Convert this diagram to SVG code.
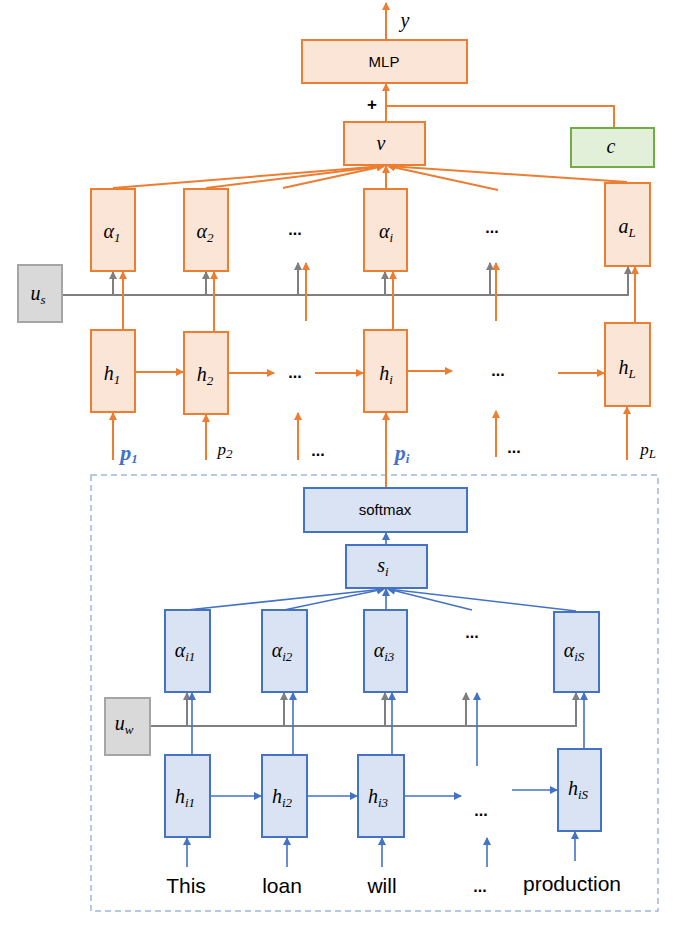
<svg xmlns="http://www.w3.org/2000/svg" width="693" height="929" viewBox="0 0 693 929">
<style>
.o{fill:#FBE5D6;stroke:#ED7D31;stroke-width:2}
.b{fill:#DAE3F3;stroke:#4472C4;stroke-width:2}
.g{fill:#E2F0D9;stroke:#70AD47;stroke-width:2}
.u{fill:#D9D9D9;stroke:#A5A5A5;stroke-width:2}
.m{font-family:"Liberation Serif",serif;font-style:italic;font-size:20px;fill:#000;text-anchor:middle}
.s{font-size:13px}
.t{font-family:"Liberation Sans",sans-serif;font-size:15px;text-anchor:middle;fill:#000}
.w{font-family:"Liberation Sans",sans-serif;font-size:21px;text-anchor:middle;fill:#000}
.lo{stroke:#ED7D31;stroke-width:2;fill:none}
.lb{stroke:#4472C4;stroke-width:1.6;fill:none}
.lg{stroke:#7F7F7F;stroke-width:2;fill:none}
.d{font-family:"Liberation Sans",sans-serif;font-size:16px;text-anchor:middle;font-weight:bold}
</style>
<defs>
<marker id="ao" markerWidth="8" markerHeight="8" refX="7" refY="4" orient="auto" markerUnits="userSpaceOnUse"><path d="M0,0L8,4L0,8z" fill="#ED7D31"/></marker>
<marker id="ab" markerWidth="8" markerHeight="8" refX="7" refY="4" orient="auto" markerUnits="userSpaceOnUse"><path d="M0,0L8,4L0,8z" fill="#4472C4"/></marker>
<marker id="ag" markerWidth="8" markerHeight="8" refX="7" refY="4" orient="auto" markerUnits="userSpaceOnUse"><path d="M0,0L8,4L0,8z" fill="#7F7F7F"/></marker>
</defs>
<rect x="91" y="475" width="567" height="436" fill="none" stroke="#9DB8DC" stroke-width="1.5" stroke-dasharray="6,4"/>
<g id="connectors">
<line class="lo" x1="386" y1="40" x2="386" y2="3" marker-end="url(#ao)"/>
<line class="lo" x1="386" y1="122" x2="386" y2="84" marker-end="url(#ao)"/>
<polyline class="lo" points="386,106 614,106 614,128"/>
<g class="lo">
<line x1="113" y1="188" x2="384" y2="166" marker-end="url(#ao)"/>
<line x1="206" y1="188" x2="384" y2="166" marker-end="url(#ao)"/>
<line x1="283" y1="188" x2="384" y2="166" marker-end="url(#ao)"/>
<line x1="386" y1="189" x2="386" y2="166" marker-end="url(#ao)"/>
<line x1="498" y1="190" x2="388" y2="166" marker-end="url(#ao)"/>
<line x1="627" y1="182" x2="388" y2="166" marker-end="url(#ao)"/>
</g>
<polyline class="lg" points="62,295 628,295 628,267" marker-end="url(#ag)"/>
<g class="lg">
<line x1="113" y1="295" x2="113" y2="272" marker-end="url(#ag)"/>
<line x1="206" y1="295" x2="206" y2="272" marker-end="url(#ag)"/>
<line x1="298" y1="295" x2="298" y2="263" marker-end="url(#ag)"/>
<line x1="385" y1="295" x2="385" y2="272" marker-end="url(#ag)"/>
<line x1="490" y1="295" x2="490" y2="263" marker-end="url(#ag)"/>
</g>
<g class="lo">
<line x1="123" y1="330" x2="123" y2="272" marker-end="url(#ao)"/>
<line x1="214" y1="332" x2="214" y2="272" marker-end="url(#ao)"/>
<line x1="306" y1="321" x2="306" y2="263" marker-end="url(#ao)"/>
<line x1="393" y1="330" x2="393" y2="272" marker-end="url(#ao)"/>
<line x1="496" y1="321" x2="496" y2="263" marker-end="url(#ao)"/>
<line x1="635" y1="323" x2="635" y2="267" marker-end="url(#ao)"/>
<line x1="135" y1="372" x2="183" y2="372" marker-end="url(#ao)"/>
<line x1="228" y1="373" x2="274" y2="373" marker-end="url(#ao)"/>
<line x1="315" y1="373" x2="363" y2="373" marker-end="url(#ao)"/>
<line x1="407" y1="371" x2="452" y2="371" marker-end="url(#ao)"/>
<line x1="558" y1="373" x2="604" y2="373" marker-end="url(#ao)"/>
<line x1="113" y1="460" x2="113" y2="413" marker-end="url(#ao)"/>
<line x1="206" y1="460" x2="206" y2="415" marker-end="url(#ao)"/>
<line x1="298" y1="460" x2="298" y2="413" marker-end="url(#ao)"/>
<line x1="386" y1="488" x2="386" y2="413" marker-end="url(#ao)"/>
<line x1="496" y1="457" x2="496" y2="411" marker-end="url(#ao)"/>
<line x1="627" y1="460" x2="627" y2="407" marker-end="url(#ao)"/>
</g>
<g class="lb">
<line x1="386" y1="545" x2="386" y2="533" marker-end="url(#ab)"/>
<line x1="187" y1="610" x2="384" y2="589" marker-end="url(#ab)"/>
<line x1="284" y1="610" x2="384" y2="589" marker-end="url(#ab)"/>
<line x1="386" y1="610" x2="386" y2="589" marker-end="url(#ab)"/>
<line x1="472" y1="610" x2="388" y2="589" marker-end="url(#ab)"/>
<line x1="576" y1="611" x2="388" y2="589" marker-end="url(#ab)"/>
</g>
<polyline class="lg" points="150,726 577,726"/>
<g class="lg" stroke-width="1.6">
<line x1="187" y1="726" x2="187" y2="693" marker-end="url(#ag)"/>
<line x1="284" y1="726" x2="284" y2="693" marker-end="url(#ag)"/>
<line x1="385" y1="726" x2="385" y2="693" marker-end="url(#ag)"/>
<line x1="466" y1="726" x2="466" y2="693" marker-end="url(#ag)"/>
<line x1="576" y1="726" x2="576" y2="693" marker-end="url(#ag)"/>
</g>
<g class="lb">
<line x1="192" y1="755" x2="192" y2="693" marker-end="url(#ab)"/>
<line x1="293" y1="755" x2="293" y2="693" marker-end="url(#ab)"/>
<line x1="392" y1="755" x2="392" y2="693" marker-end="url(#ab)"/>
<line x1="477" y1="766" x2="477" y2="693" marker-end="url(#ab)"/>
<line x1="584" y1="749" x2="584" y2="693" marker-end="url(#ab)"/>
<line x1="210" y1="796" x2="261" y2="796" marker-end="url(#ab)"/>
<line x1="307" y1="796" x2="357" y2="796" marker-end="url(#ab)"/>
<line x1="404" y1="796" x2="461" y2="796" marker-end="url(#ab)"/>
<line x1="512" y1="790" x2="557" y2="790" marker-end="url(#ab)"/>
<line x1="187" y1="867" x2="187" y2="838" marker-end="url(#ab)"/>
<line x1="287" y1="867" x2="287" y2="838" marker-end="url(#ab)"/>
<line x1="382" y1="867" x2="382" y2="838" marker-end="url(#ab)"/>
<line x1="487" y1="867" x2="487" y2="838" marker-end="url(#ab)"/>
<line x1="575" y1="861" x2="575" y2="832" marker-end="url(#ab)"/>
</g>
</g>
<text class="m" x="405" y="27">y</text>
<g id="mlp"><rect class="o" x="302" y="40" width="165" height="43"/><text class="t" x="384" y="67">MLP</text></g>
<text x="372" y="110" font-family="Liberation Sans,sans-serif" font-size="17" font-weight="bold" text-anchor="middle">+</text>
<g id="v"><rect class="o" x="344" y="122" width="81" height="43"/><text class="m" x="381" y="150">v</text></g>
<g id="c"><rect class="g" x="571" y="128" width="83" height="39"/><text class="m" x="611" y="153">c</text></g>
<g id="a1"><rect class="o" x="91" y="189" width="44" height="82"/><text class="m" x="112" y="238">α<tspan class="s" dy="4">1</tspan></text></g>
<g id="a2"><rect class="o" x="184" y="189" width="44" height="82"/><text class="m" x="205" y="238">α<tspan class="s" dy="4">2</tspan></text></g>
<text class="d" x="295" y="235">...</text>
<g id="ai"><rect class="o" x="364" y="189" width="43" height="82"/><text class="m" x="386" y="238">α<tspan class="s" dy="4">i</tspan></text></g>
<text class="d" x="492" y="233">...</text>
<g id="aL"><rect class="o" x="605" y="183" width="45" height="83"/><text class="m" x="627" y="233">a<tspan class="s" dy="4">L</tspan></text></g>
<g id="us"><rect class="u" x="18" y="265" width="44" height="57"/><text class="m" x="38" y="300">u<tspan class="s" dy="4">s</tspan></text></g>
<g id="h1"><rect class="o" x="91" y="330" width="44" height="82"/><text class="m" x="112" y="380">h<tspan class="s" dy="4">1</tspan></text></g>
<g id="h2"><rect class="o" x="184" y="332" width="44" height="82"/><text class="m" x="205" y="381">h<tspan class="s" dy="4">2</tspan></text></g>
<text class="d" x="295" y="378">...</text>
<g id="hi"><rect class="o" x="364" y="330" width="43" height="82"/><text class="m" x="386" y="380">h<tspan class="s" dy="4">i</tspan></text></g>
<text class="d" x="498" y="376">...</text>
<g id="hL"><rect class="o" x="605" y="323" width="45" height="83"/><text class="m" x="627" y="374">h<tspan class="s" dy="4">L</tspan></text></g>
<text class="m" x="129" y="460" fill="#4472C4" style="fill:#4472C4;font-weight:bold;font-size:22px">p<tspan class="s" dy="3">1</tspan></text>
<text class="m" x="225" y="455" style="font-size:17px">p<tspan class="s" dy="3">2</tspan></text>
<text class="d" x="318" y="456">...</text>
<text class="m" x="402" y="460" style="fill:#4472C4;font-weight:bold;font-size:22px">p<tspan class="s" dy="3">i</tspan></text>
<text class="d" x="514" y="453">...</text>
<text class="m" x="648" y="455" style="font-size:17px">p<tspan class="s" dy="3">L</tspan></text>
<g id="softmax"><rect class="b" x="304" y="488" width="163" height="44"/><text class="t" x="385" y="515">softmax</text></g>
<g id="si"><rect class="b" x="346" y="545" width="81" height="43"/><text class="m" x="383" y="572">s<tspan class="s" dy="4">i</tspan></text></g>
<g id="ai1"><rect class="b" x="165" y="610" width="45" height="82"/><text class="m" x="185" y="657">α<tspan class="s" dy="4">i1</tspan></text></g>
<g id="ai2"><rect class="b" x="262" y="610" width="45" height="82"/><text class="m" x="282" y="657">α<tspan class="s" dy="4">i2</tspan></text></g>
<g id="ai3"><rect class="b" x="364" y="610" width="43" height="82"/><text class="m" x="384" y="657">α<tspan class="s" dy="4">i3</tspan></text></g>
<text class="d" x="472" y="638">...</text>
<g id="aiS"><rect class="b" x="554" y="612" width="45" height="80"/><text class="m" x="574" y="657">α<tspan class="s" dy="4">iS</tspan></text></g>
<g id="uw"><rect class="u" x="105" y="698" width="45" height="57"/><text class="m" x="124" y="730">u<tspan class="s" dy="4">w</tspan></text></g>
<g id="hi1"><rect class="b" x="165" y="755" width="45" height="82"/><text class="m" x="185" y="803">h<tspan class="s" dy="4">i1</tspan></text></g>
<g id="hi2"><rect class="b" x="262" y="755" width="45" height="82"/><text class="m" x="282" y="803">h<tspan class="s" dy="4">i2</tspan></text></g>
<g id="hi3"><rect class="b" x="358" y="755" width="46" height="82"/><text class="m" x="378" y="803">h<tspan class="s" dy="4">i3</tspan></text></g>
<text class="d" x="481" y="816">...</text>
<g id="hiS"><rect class="b" x="558" y="749" width="43" height="82"/><text class="m" x="578" y="795">h<tspan class="s" dy="4">iS</tspan></text></g>
<text class="w" x="186" y="893">This</text>
<text class="w" x="282" y="893">loan</text>
<text class="w" x="382" y="893">will</text>
<text class="d" x="480" y="892">...</text>
<text class="w" x="572" y="891">production</text>
</svg>
